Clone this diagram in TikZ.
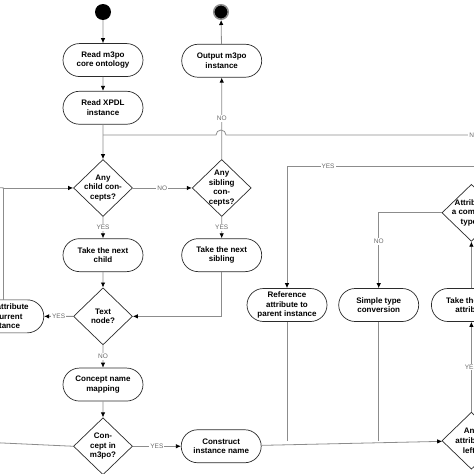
\documentclass[tikz,border=0pt]{standalone}
\usepackage{fontspec}
\setmainfont{Liberation Sans}
\usepackage{xcolor}
\definecolor{mainDark}{HTML}{2B2B2B}
\definecolor{flowGray}{HTML}{8C8C8C}
\definecolor{labelGray}{HTML}{6A6A6A}
\usepackage{tikz}
\usetikzlibrary{shapes,arrows,positioning,calc,arrows.meta,shapes.misc}
\tikzset{
  actBox/.style={
    rounded rectangle,
    draw=mainDark,
    fill=white,
    line width=0.7pt,
    minimum width=82pt,
    minimum height=33pt,
    inner sep=1pt,
    align=center,
    font=\bfseries\fontsize{8}{9.5}\selectfont
 },
  decBox/.style={
    diamond,
    draw=mainDark,
    fill=white,
    line width=0.7pt,
    minimum width=59pt,
    minimum height=57pt,
    inner sep=0pt
 },
  decText/.style={
    align=center,
    font=\bfseries\fontsize{8}{9.6}\selectfont
 },
  startDot/.style={
    circle,
    fill=black,
    minimum size=16pt,
    inner sep=0pt
 },
  stopDot/.style={
    circle,
    fill=black,
    draw=flowGray,
    line width=1.5pt,
    minimum size=14.5pt,
    inner sep=0pt
 },
  arrowLine/.style={
    -{Latex[length=5pt,width=4.5pt,color=black]},
    line width=0.8pt,
    color=flowGray
 },
  plainLine/.style={
    line width=0.8pt,
    color=flowGray
 },
  branchLabel/.style={
    fill=white,
    text=labelGray,
    inner sep=1pt,
    font=\fontsize{6.5}{7}\selectfont
 }
}

\begin{document}
\begin{tikzpicture}[x=1pt, y=-1pt]

            \clip (0,0) rectangle (474,474);

            % main column on the left
            \node[startDot] (start) at (103,12) {};
            \node[actBox, below=23pt of start] (readOnto) {Read m3po\\core ontology};
            \node[actBox, below=14pt of readOnto] (readXpdl) {Read XPDL\\instance};
            \node[decBox, below=34.5pt of readXpdl, label={[decText]center:{Any\\child con-\\cepts?}}] (anyChild) {};
            \node[actBox, below=21.5pt of anyChild] (nextChild) {Take the next\\child};
            \node[decBox, below=15.5pt of nextChild, label={[decText]center:{Text\\node?}}] (textNode) {};
            \node[actBox, below=22.5pt of textNode] (conceptMap) {Concept name\\mapping};
            \node[decBox, below=16pt of conceptMap, label={[decText]center:{Con-\\cept in\\m3po?}}] (conceptIn) {};
            \draw[arrowLine] (start) -- (readOnto);
            \draw[arrowLine] (readOnto) -- (readXpdl);
            \draw[arrowLine] (readXpdl) -- (anyChild);
            \draw[arrowLine] (anyChild) -- (nextChild) node[branchLabel, midway] {YES};
            \draw[arrowLine] (nextChild) -- (textNode);
            \draw[arrowLine] (textNode) -- (conceptMap) node[branchLabel, midway] {NO};
            \draw[arrowLine] (conceptMap) -- (conceptIn);

            % sibling branch and the end
            \node[decBox, right=59pt of anyChild, label={[decText]center:{Any\\sibling\\con-\\cepts?}}] (anySibling) {};
            \node[actBox, above=81.5pt of anySibling] (output) {Output m3po\\instance};
            \node[stopDot] (stop) at (221,12) {};
            \node[actBox, below=21.5pt of anySibling] (nextSibling) {Take the next\\sibling};
            \draw[arrowLine] (anyChild) -- (anySibling) node[branchLabel, midway] {NO};
            \draw[arrowLine] (anySibling) -- (output) node[branchLabel, midway] {NO};
            \draw[arrowLine] (output) -- (stop);
            \draw[arrowLine] (anySibling) -- (nextSibling) node[branchLabel, midway] {YES};
            \draw[arrowLine] (nextSibling.south) |- (textNode.east);

            % text node goes back to the child test
            \node[actBox, left=29pt of textNode] (addAttr) {Add attribute\\to current\\instance};
            \coordinate (leftIn) at (-30,186);
            \coordinate (leftOut) at (-30,441.5);
            \draw[arrowLine] (textNode) -- (addAttr) node[branchLabel, midway] {YES};
            \draw[arrowLine] (addAttr.north) |- (anyChild.west);
            \draw[plainLine] (leftIn) -- (addAttr.north |- anyChild.west);
            \draw[plainLine] (conceptIn.west) -- (leftOut);

            % attribute loop on the right
            \node[actBox, right=48pt of conceptIn] (construct) {Construct\\instance name};
            \node[actBox] (refAttr) at (287,305) {Reference\\attribute to\\parent instance};
            \node[actBox, right=11pt of refAttr] (simpleType) {Simple type\\conversion};
            \node[actBox, right=12pt of simpleType] (nextAttr) {Take the next\\attribute};
            \node[decBox, above=46.5pt of nextAttr, label={[decText]center:{Attribute\\a complex\\type?}}] (complexType) {};
            \node[decBox, below=90pt of nextAttr, label={[decText]center:{Any\\attribute\\left?}}] (attrLeft) {};
            \draw[arrowLine] (conceptIn) -- (construct) node[branchLabel, midway] {YES};
            \draw[arrowLine] (construct) -- (attrLeft);
            \draw[plainLine] (refAttr.south) -- (refAttr.south |- attrLeft.west);
            \draw[plainLine] (simpleType.south) -- (simpleType.south |- attrLeft.west);
            \draw[arrowLine] (attrLeft) -- (nextAttr) node[branchLabel, midway] {YES};
            \draw[arrowLine] (nextAttr) -- (complexType);
            \draw[arrowLine] (complexType.west) -| (simpleType.north) node[branchLabel, pos=0.69] {NO};

            % YES goes round to the reference box
            \coordinate (yesTurn) at (515,166);
            \draw[arrowLine] (complexType.east) -| (yesTurn) -| (refAttr.north) node[branchLabel, pos=0.41] {YES};

            % NO goes back to the top, hopping over the output line
            \coordinate (noTurn) at (525,135);
            \coordinate (hopRight) at (226,135);
            \draw[plainLine] (attrLeft.east) -| (noTurn) -- (hopRight) node[branchLabel, pos=0.17] {NO}
                arc[start angle=0, end angle=180, radius=5pt] -- (readXpdl.south |- noTurn);

        \end{tikzpicture}
\end{document}
